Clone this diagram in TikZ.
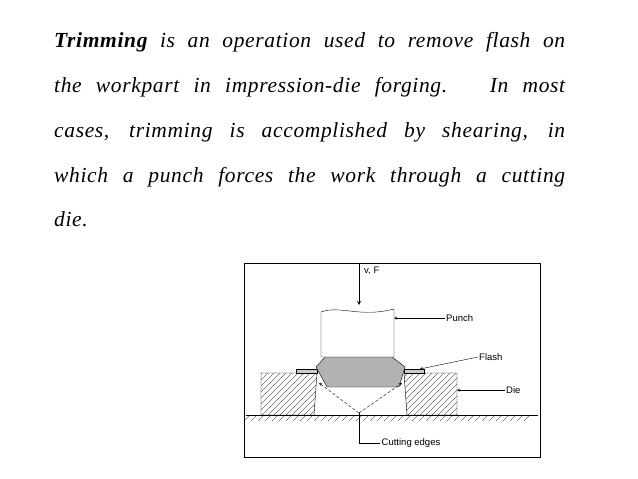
\documentclass[tikz,border=0pt]{standalone}
\usepackage{fontspec}
\setmainfont{Liberation Serif}
\setsansfont{Liberation Sans}
\newfontfamily\bodyfont[LetterSpace=3]{Liberation Serif}
\usetikzlibrary{positioning, arrows, patterns}

\tikzset{
  lbl/.style={font=\sffamily\fontsize{9.5}{11}\selectfont, inner sep=1pt},
  txt/.style={anchor=base west, inner sep=0pt, font=\bodyfont\fontsize{21.5}{24}\selectfont\itshape},
  hatchline/.style={very thin},
}

\begin{document}
\begin{tikzpicture}[x=1pt, y=-1pt, >=stealth]
    \useasboundingbox (0,0) rectangle (638,479);
    % paragraph
    \node (l1) [txt] at (54,47) {\makebox[511pt][s]{\textbf{Trimming} is an operation used to remove flash on}};
    \node (l2) [txt] at (54,92) {\makebox[511pt][s]{the workpart in impression-die forging.\ \ \ In most}};
    \node (l3) [txt] at (54,137) {\makebox[511pt][s]{cases, trimming is accomplished by shearing, in}};
    \node (l4) [txt] at (54,182) {\makebox[511pt][s]{which a punch forces the work through a cutting}};
    \node (l5) [txt] at (54,226) {die.};
    % figure frame
    \draw (244,263) rectangle (540,457);
    % ground
    \draw (246,415) -- (538,415);
    \foreach \x in {250,257,...,534} \draw[hatchline] (\x,415) -- (\x-6,421);
    % dies
    \begin{scope}
      \clip (261,373) -- (317,373) -- (314,415) -- (261,415) -- cycle;
      \foreach \x in {220,226,...,330} \draw[hatchline] (\x,415) -- (\x+42,373);
    \end{scope}
    \begin{scope}
      \clip (404,373) -- (457,373) -- (457,415) -- (407,415) -- cycle;
      \foreach \x in {360,366,...,460} \draw[hatchline] (\x,415) -- (\x+42,373);
    \end{scope}
    \draw (261,373) -- (317,373) -- (314,415) -- (261,415) -- cycle;
    \draw (404,373) -- (457,373) -- (457,415) -- (407,415) -- cycle;
    % flash
    \draw[fill=gray!40] (296,369) rectangle (317,373);
    \draw[fill=gray!40] (404,369) rectangle (424,373);
    % workpiece
    \draw[fill=gray!60] (325,357) -- (392,357) -- (405,367) -- (399,387) -- (327,387) -- (316,367) -- cycle;
    % punch
    \draw[fill=white] (321,357) -- (321,312) .. controls (340,305) and (360,318) .. (394,309) -- (394,357) -- cycle;
    % force arrow
    \coordinate (ftop) at (359,263);
    \coordinate (ftip) at (359,305);
    \draw[->, thick] (ftop) -- (ftip);
    \node (force) [lbl, anchor=west] at (363,271) {v, F};
    % labels
    \node (punch) [lbl, anchor=west] at (445,318) {Punch};
    \coordinate (ppt) at (394,318);
    \draw[->] (punch) -- (ppt);
    \node (flash) [lbl, anchor=west] at (478,357) {Flash};
    \coordinate (fpt) at (420,369);
    \draw[->] (flash.west) -- (fpt);
    \node (die) [lbl, anchor=west] at (505,390) {Die};
    \coordinate (dpt) at (457,390);
    \draw[->] (die) -- (dpt);
    \node (cut) [lbl] at (411,443) {Cutting edges};
    \coordinate (cj) at (359,413);
    \coordinate (cl) at (319,383);
    \coordinate (cr) at (402,383);
    \draw (cut.west) -| (cj);
    \draw[->, densely dashed] (cj) -- (cl);
    \draw[->, densely dashed] (cj) -- (cr);
\end{tikzpicture}
\end{document}
